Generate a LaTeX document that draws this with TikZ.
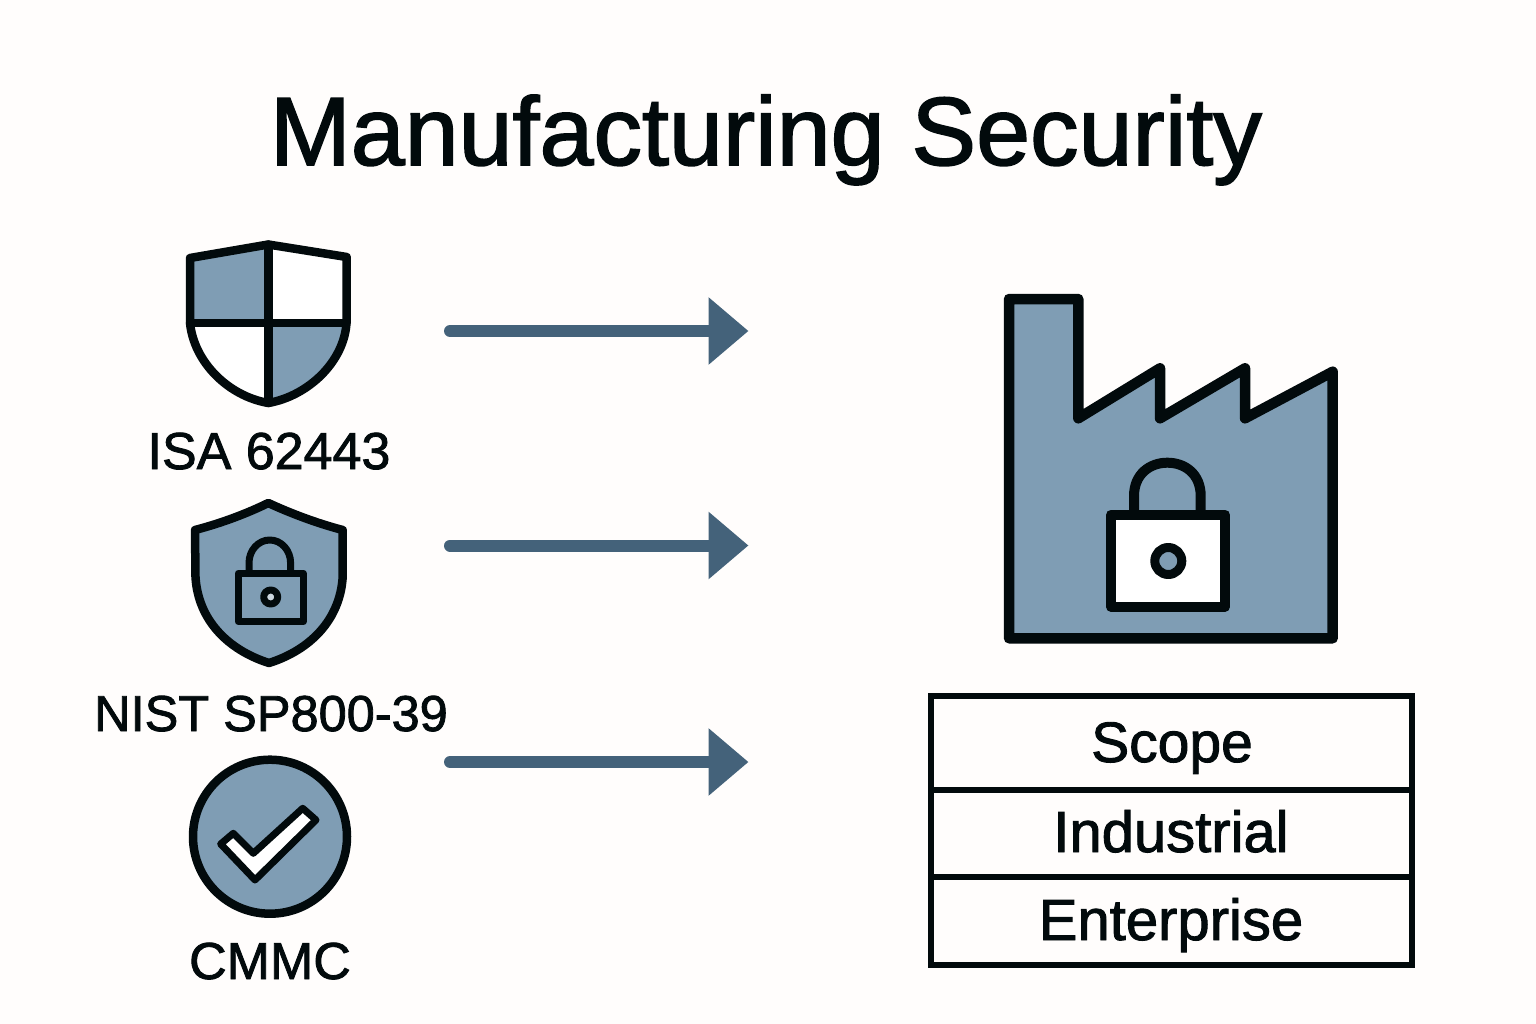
\documentclass[tikz,border=0pt]{standalone}
\usepackage{fontspec}
\setmainfont{Liberation Sans}[FakeBold=1.6]
\usetikzlibrary{arrows.meta}
\definecolor{bgc}{HTML}{FFFDFC}
\definecolor{ink}{HTML}{020A0C}
\definecolor{steel}{HTML}{7F9DB4}
\definecolor{arrowc}{HTML}{44627A}
\tikzset{
  outline/.style={draw=ink,line width=#1,line join=round,line cap=round},
  outline/.default=8.5pt,
  flow/.style={draw=arrowc,line width=12pt,line cap=round,-{Triangle[length=40pt,width=65pt,fill=arrowc]}},
  lbl/.style={text=ink,inner sep=0pt,anchor=base},
}
\newcommand{\fs}[1]{\fontsize{#1}{#1}\selectfont}
\begin{document}
\begin{tikzpicture}[x=1pt,y=-1pt]
\useasboundingbox (0,0) rectangle (1536,1024);
\fill[bgc] (0,0) rectangle (1536,1024);

\node[lbl,font=\fs{97}] (title) at (766,165) {Manufacturing Security};

% shield 1
\def\shieldA{(190,258) -- (268.3,244.5) -- (346.7,257) -- (346.5,323) .. controls (344,362) and (308,396) .. (268.3,403) .. controls (228,396) and (194,362) .. (190,323) -- cycle}
\fill[white] \shieldA;
\fill[steel] (190,258) -- (268.3,244.5) -- (268.3,323) -- (190,323) -- cycle;
\fill[steel] (268.3,323) -- (346.5,323) .. controls (344,362) and (308,396) .. (268.3,403) -- cycle;
\draw[outline] \shieldA;
\draw[outline] (268.3,244.5) -- (268.3,403);
\draw[outline] (190,323) -- (346.5,323);
\node[lbl,font=\fs{52}] (isa) at (269,469) {ISA 62443};

% shield 2
\draw[outline,fill=steel] (195,530) .. controls (222,523) and (248,513) .. (268.3,503) .. controls (290,513) and (316,523) .. (342.7,530) -- (342.7,577) .. controls (340,620) and (310,650) .. (269,663) .. controls (228,650) and (198,620) .. (195.5,577) -- cycle;
\draw[outline=7pt] (249,573) -- (249,563) arc[start angle=180,end angle=0,x radius=20.8pt,y radius=23pt] -- (290.7,573);
\draw[outline=7pt] (238.3,573.3) rectangle (303.3,621.7);
\draw[outline=7pt,fill=bgc!60!steel] (270.7,597) ellipse[x radius=7pt,y radius=7pt];
\node[lbl,font=\fs{50.5}] (nist) at (271,731) {NIST SP800-39};

% circle
\draw[outline,fill=steel] (270,836.7) circle[radius=77pt];
\draw[outline=7pt,fill=white] (233.3,833.3) -- (220.7,844) -- (255,880) -- (316,820) -- (302.7,808.3) -- (253.3,853.3) -- cycle;
\node[lbl,font=\fs{52}] (cmmc) at (270,979) {CMMC};

% arrows
\coordinate (a1s) at (450,331); \coordinate (a1e) at (748.5,331);
\coordinate (a2s) at (450,545.5); \coordinate (a2e) at (748.5,545.5);
\coordinate (a3s) at (450,762); \coordinate (a3e) at (748.5,762);
\draw[flow] (a1s) -- (a1e);
\draw[flow] (a2s) -- (a2e);
\draw[flow] (a3s) -- (a3e);

% factory
\draw[outline=10.5pt,fill=steel] (1009,299) -- (1078.3,299) -- (1078.3,418.3) -- (1160,368.3) -- (1160,418.3) -- (1245,368.3) -- (1245,418.3) -- (1332.7,371.7) -- (1332.7,638.3) -- (1009,638.3) -- cycle;
\draw[outline=10pt] (1134,514) -- (1134,496) .. controls (1134,474) and (1150,462.7) .. (1167.3,462.7) .. controls (1185,462.7) and (1200.7,474) .. (1200.7,496) -- (1200.7,514);
\draw[outline=10pt,fill=white] (1111,514.7) rectangle (1225,606.7);
\draw[outline=9pt,fill=steel] (1168.3,561) circle[radius=13.5pt];

% table
\draw[outline=5.5pt,line cap=butt,line join=miter] (931,696) rectangle (1412,965);
\draw[outline=5.5pt,line cap=butt] (931,790) -- (1412,790);
\draw[outline=5.5pt,line cap=butt] (931,877) -- (1412,877);
\node[lbl,font=\fs{57}] (scope) at (1172,762) {Scope};
\node[lbl,font=\fs{58}] (industrial) at (1171,852) {Industrial};
\node[lbl,font=\fs{58}] (enterprise) at (1171,940) {Enterprise};
\end{tikzpicture}
\end{document}
